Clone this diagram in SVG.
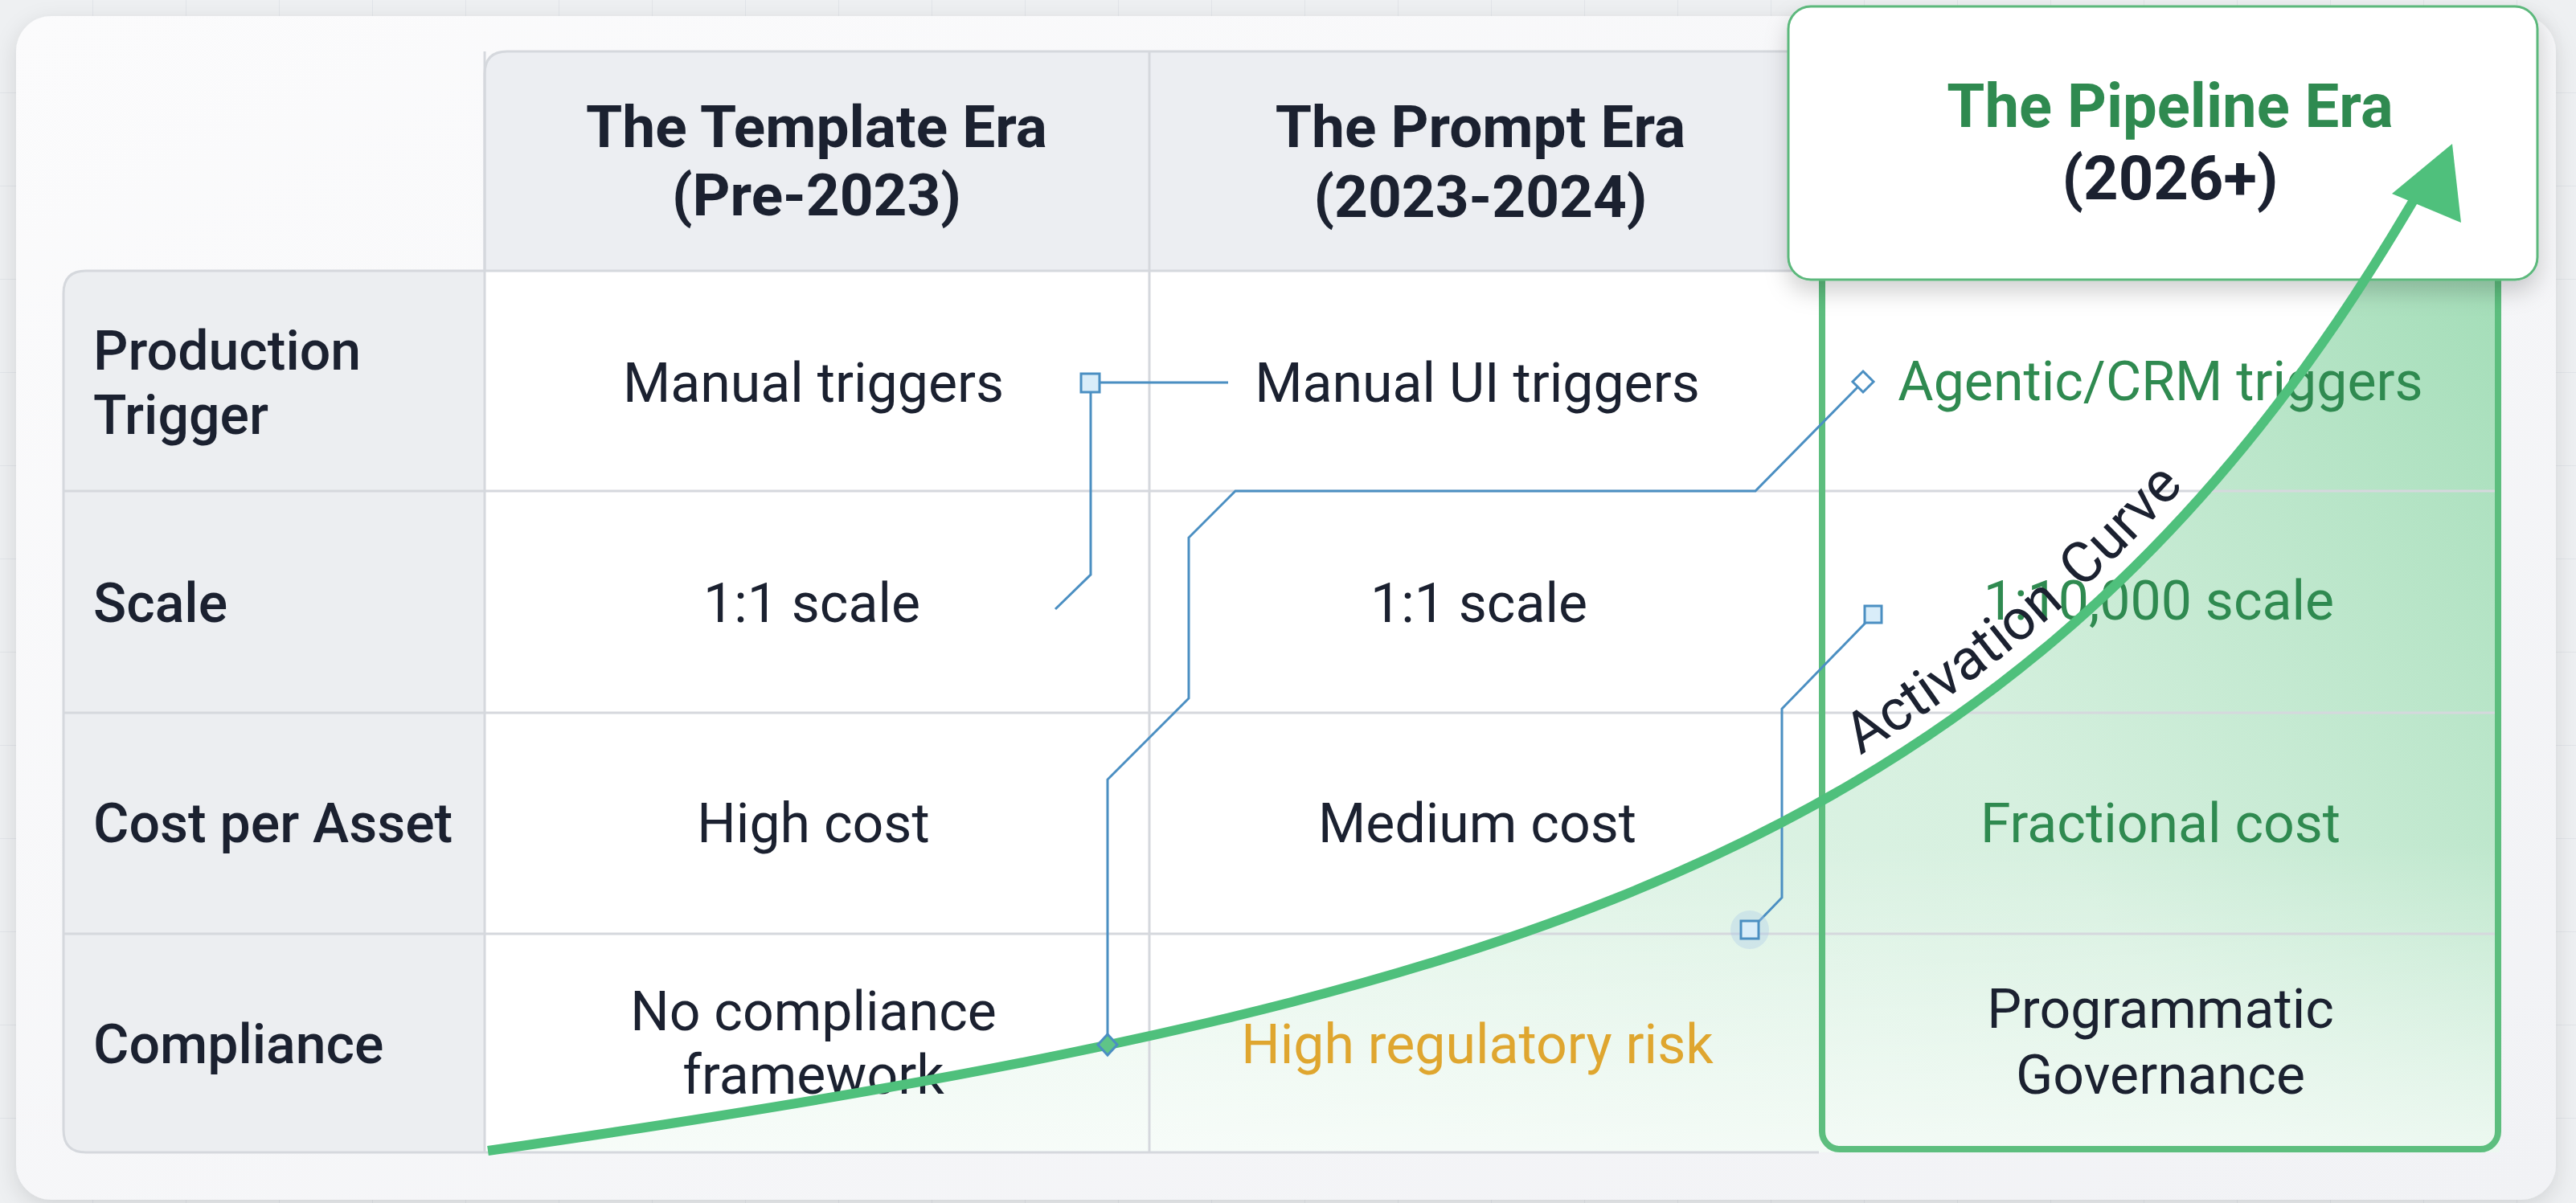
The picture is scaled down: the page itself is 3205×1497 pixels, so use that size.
<svg xmlns="http://www.w3.org/2000/svg" width="3205" height="1497" viewBox="0 0 3205 1497">
<defs>
<style>
text{font-family:Roboto,"Liberation Sans",sans-serif;font-size:68px;fill:#1b2130}
.hd{font-weight:700;text-anchor:middle;font-size:73px}
.hp{font-size:76px}
.rl{font-weight:500}
.c{text-anchor:middle}
.g{fill:#2f8a50}
.gold{fill:#dfa62f}
.lbl{font-size:71px;word-spacing:10px}
.ln{stroke:#d5d8dd;stroke-width:3;fill:none}
.blue{stroke:#4b8fc2;stroke-width:3;fill:none}
.mk{stroke:#4b8fc2;stroke-width:3;fill:#d9edf9}
</style>
<pattern id="grid" width="116" height="116" patternUnits="userSpaceOnUse">
<path d="M116 0V116M0 116H116" stroke="#e2e5e9" stroke-width="2" fill="none"/>
</pattern>
<filter id="shadow" x="-5%" y="-5%" width="110%" height="115%">
<feDropShadow dx="0" dy="8" stdDeviation="14" flood-color="#000" flood-opacity="0.12"/>
</filter>
<filter id="hshadow" x="-10%" y="-10%" width="120%" height="140%">
<feDropShadow dx="0" dy="14" stdDeviation="14" flood-color="#000" flood-opacity="0.18"/>
</filter>
<linearGradient id="cardg" x1="0" y1="0" x2="1" y2="1">
<stop offset="0" stop-color="#fbfbfc"/>
<stop offset="1" stop-color="#f1f2f5"/>
</linearGradient>
<linearGradient id="fillg" gradientUnits="userSpaceOnUse" x1="3100" y1="300" x2="1500" y2="1450">
<stop offset="0" stop-color="#56c17c" stop-opacity="0.55"/>
<stop offset="0.45" stop-color="#7fd09b" stop-opacity="0.32"/>
<stop offset="1" stop-color="#b5e4c5" stop-opacity="0.32"/>
</linearGradient>
<linearGradient id="fadeg" gradientUnits="userSpaceOnUse" x1="0" y1="1050" x2="0" y2="1434">
<stop offset="0" stop-color="#ffffff" stop-opacity="0"/>
<stop offset="1" stop-color="#ffffff" stop-opacity="0.65"/>
</linearGradient>
<path id="labelPath" d="M1992 1099.1C2092 1059.3 2192 1012.5 2292 953.4C2375.3 904.2 2458.7 846.5 2542 775.7C2608.7 719.1 2675.3 654.1 2742 577C2792 519.2 2842 454.7 2892 381.3"/>
</defs>

<rect width="3205" height="1497" fill="#eef0f2"/>
<rect width="3205" height="1497" fill="url(#grid)"/>

<g id="card">
<rect x="20" y="20" width="3160" height="1473" rx="44" fill="url(#cardg)" filter="url(#shadow)"/>
</g>

<g id="table">
<path d="M603 337V92Q603 64 631 64H2263V337Z" fill="#eceef2"/>
<path d="M603 337H107Q79 337 79 365V1406Q79 1434 107 1434H603Z" fill="#eceef1"/>
<rect x="603" y="337" width="2507" height="1097" fill="#ffffff"/>
<path d="M607 1432C773.7 1408 940.3 1382.5 1107 1352.9C1273.7 1323.4 1440.3 1290 1607 1247C1740.3 1212.6 1873.7 1172.2 2007 1119.1C2107 1079.3 2207 1032.5 2307 973.4C2390.3 924.2 2473.7 866.5 2557 795.7C2623.7 739.1 2690.3 674.1 2757 597C2807 539.2 2857 474.7 2907 401.3C2937 357.3 2973 300 3003 249L3110 249L3110 1434L607 1434Z" fill="url(#fillg)"/>
<rect x="603" y="1050" width="2507" height="384" fill="url(#fadeg)"/>
<path class="ln" d="M603 337V92Q603 64 631 64H2263"/>
<path class="ln" d="M2263 1434H107Q79 1434 79 1406V365Q79 337 107 337H2263"/>
<path class="ln" d="M603 64V1434M1430 64V1434M79 611H3108M79 887H3108M79 1162H3108"/>
</g>

<g id="header-template">
<text class="hd" x="1016" y="183">The Template Era</text>
<text class="hd" x="1016" y="268">(Pre-2023)</text>
</g>
<g id="header-prompt">
<text class="hd" x="1842" y="183">The Prompt Era</text>
<text class="hd" x="1842" y="270">(2023-2024)</text>
</g>

<g id="row-labels">
<text class="rl" x="116" y="460">Production</text>
<text class="rl" x="116" y="540">Trigger</text>
<text class="rl" x="116" y="774">Scale</text>
<text class="rl" x="116" y="1048">Cost per Asset</text>
<text class="rl" x="116" y="1323">Compliance</text>
</g>

<g id="cells-template">
<text class="c" x="1012" y="500">Manual triggers</text>
<text class="c" x="1010" y="774">1:1 scale</text>
<text class="c" x="1012" y="1048">High cost</text>
<text class="c" x="1012" y="1282">No compliance</text>
<text class="c" x="1012" y="1361">framework</text>
</g>
<g id="cells-prompt">
<text class="c" x="1838" y="500">Manual UI triggers</text>
<text class="c" x="1840" y="774">1:1 scale</text>
<text class="c" x="1838" y="1048">Medium cost</text>
<text class="c gold" x="1838" y="1323">High regulatory risk</text>
</g>
<g id="cells-pipeline">
<text class="c g" x="2688" y="498">Agentic/CRM triggers</text>
<text class="c g" x="2686" y="771">1:10,000 scale</text>
<text class="c g" x="2688" y="1048">Fractional cost</text>
<text class="c" x="2688" y="1279">Programmatic</text>
<text class="c" x="2688" y="1361">Governance</text>
</g>

<g id="pipeline-column">
<rect x="2267" y="320" width="841" height="1110" rx="22" fill="none" stroke="#5dbe7e" stroke-width="8"/>
</g>

<g id="header-pipeline">
<rect x="2225" y="8" width="932" height="340" rx="28" fill="#ffffff" stroke="#5cb87b" stroke-width="3" filter="url(#hshadow)"/>
<text class="hd hp g" x="2700" y="158">The Pipeline Era</text>
<text class="hd hp" x="2700" y="248">(2026+)</text>
</g>

<g id="connectors">
<path class="blue" d="M1369 476H1528"/>
<path class="blue" d="M1357 488V715L1313 758"/>
<path class="blue" d="M1378 1290V970L1479 869V669L1537 611H2184L2311 482"/>
<path class="blue" d="M2186 1149L2217 1117V882L2322 774"/>
<circle cx="2177" cy="1157" r="24" fill="#a9c9e9" fill-opacity="0.35"/>
<rect class="mk" x="1345" y="465" width="23" height="23"/>
<rect class="mk" x="2166" y="1146" width="22" height="22"/>
<rect class="mk" x="2320" y="754" width="21" height="21" fill="#ffffff"/>
</g>

<g id="activation-curve">
<path d="M607 1432C773.7 1408 940.3 1382.5 1107 1352.9C1273.7 1323.4 1440.3 1290 1607 1247C1740.3 1212.6 1873.7 1172.2 2007 1119.1C2107 1079.3 2207 1032.5 2307 973.4C2390.3 924.2 2473.7 866.5 2557 795.7C2623.7 739.1 2690.3 674.1 2757 597C2807 539.2 2857 474.7 2907 401.3C2937 357.3 2973 300 3003 249" fill="none" stroke="#4fc07c" stroke-width="12"/>
<polygon points="3051,179 2976,241 3062,277" fill="#4fc07c"/>
<text class="lbl"><textPath href="#labelPath" startOffset="360">Activation Curve</textPath></text>
<path d="M1378 1287L1390 1300L1378 1313L1366 1300Z" fill="#5fc488" stroke="#4b8fc2" stroke-width="3"/>
<path d="M2318 462L2331 475L2318 488L2305 475Z" fill="#ffffff" stroke="#4b8fc2" stroke-width="3"/>
</g>
</svg>
